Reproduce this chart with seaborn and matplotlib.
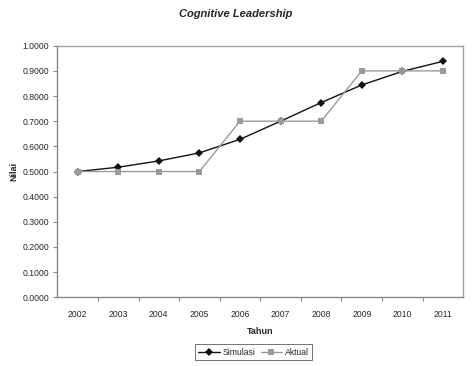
import matplotlib
matplotlib.use("Agg")
import matplotlib.pyplot as plt
import seaborn as sns
import pandas as pd
from matplotlib.ticker import FixedLocator
from matplotlib.lines import Line2D

years = [2002, 2003, 2004, 2005, 2006, 2007, 2008, 2009, 2010, 2011]
simulasi = [0.500, 0.517, 0.542, 0.574, 0.628, 0.700, 0.774, 0.844, 0.898, 0.938]
aktual = [0.5, 0.5, 0.5, 0.5, 0.7, 0.7, 0.7, 0.9, 0.9, 0.9]
y_ticks = [0.0, 0.1, 0.2, 0.3, 0.4, 0.5, 0.6, 0.7, 0.8, 0.9, 1.0]

df = pd.DataFrame({"Tahun": years * 2,
                   "Nilai": simulasi + aktual,
                   "Seri": ["Simulasi"] * len(years) + ["Aktual"] * len(years)})

sns.set_style("white")
plt.rcParams['font.family'] = ['Liberation Sans', 'DejaVu Sans']

fig = plt.figure(figsize=(4.74, 3.66), dpi=100)
ax = fig.add_axes([0.1209, 0.1877, 0.8565, 0.6874])

sns.lineplot(data=df, x="Tahun", y="Nilai", hue="Seri", style="Seri",
             palette={"Simulasi": "#111111", "Aktual": "#9a9a9a"},
             markers={"Simulasi": "D", "Aktual": "s"},
             dashes={"Simulasi": "", "Aktual": ""},
             markersize=4, markeredgewidth=0, linewidth=1.0, ax=ax, legend=False)
for line in ax.lines:
    if line.get_marker() == "D":
        line.set_markersize(3.6)

ax.set_xlim(2001.5, 2011.5)
ax.set_ylim(0, 1.0)
ax.set_yticks(y_ticks)
ax.set_yticklabels([f"{v:.4f}" for v in y_ticks], fontsize=6.2)
ax.set_xticks(years)
ax.set_xticklabels([str(y) for y in years], fontsize=6.2)
ax.xaxis.set_minor_locator(FixedLocator([y + 0.5 for y in years[:-1]]))
ax.tick_params(axis="x", which="major", length=0, pad=9)
ax.tick_params(axis="x", which="minor", length=3, width=0.8, color="#888888", direction="out", bottom=True)
ax.tick_params(axis="y", which="major", length=3, width=0.8, color="#888888", direction="out", left=True, pad=3)

for s in ["left", "bottom"]:
    ax.spines[s].set_color("#888888")
    ax.spines[s].set_linewidth(1.0)
for s in ["top", "right"]:
    ax.spines[s].set_color("#a0a0a0")
    ax.spines[s].set_linewidth(1.0)

ax.set_xlabel("Tahun", fontsize=6.5, fontweight="bold", labelpad=6)
ax.set_ylabel("Nilai", fontsize=6.5, fontweight="bold", labelpad=3)
fig.text(0.497, 0.962, "Cognitive Leadership", ha="center", va="center",
         fontsize=8, fontweight="bold", fontstyle="italic")

handles = [Line2D([], [], color="#111111", marker="D", markersize=3.6, markeredgewidth=0, lw=1.0),
           Line2D([], [], color="#9a9a9a", marker="s", markersize=4, markeredgewidth=0, lw=1.0)]
leg = fig.legend(handles, ["Simulasi", "Aktual"], loc="center", bbox_to_anchor=(0.535, 0.038),
                 ncol=2, fontsize=6.2, frameon=True, fancybox=False, handlelength=2.5,
                 columnspacing=0.6, handletextpad=0.3, borderpad=0.4)
leg.get_frame().set_edgecolor("#333333")
leg.get_frame().set_linewidth(0.6)

fig.savefig("out.png", dpi=100)
